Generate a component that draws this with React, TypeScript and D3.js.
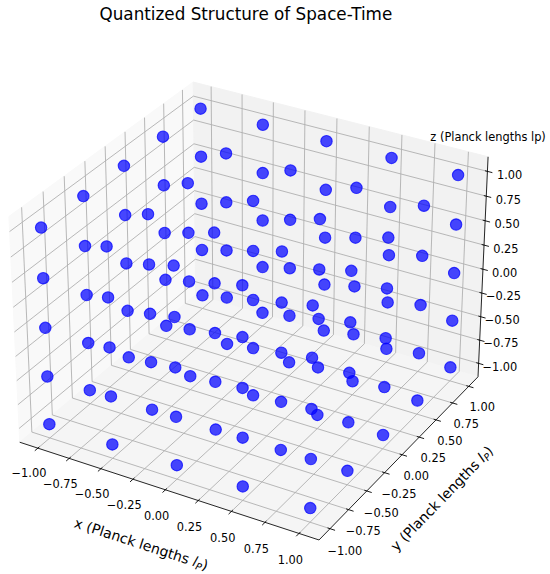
import React, { useEffect, useRef } from "react";
import * as d3 from "d3";

// lattice coordinates of the points (same on every axis)
const GRID_X = [-1, -0.5, 0, 0.5, 1];
const GRID_Y = [-1, -0.5, 0, 0.5, 1];
const GRID_Z = [-1, -0.5, 0, 0.5, 1];

const TICKS = [-1, -0.75, -0.5, -0.25, 0, 0.25, 0.5, 0.75, 1];
const TICK_LABELS = ["−1.00", "−0.75", "−0.50", "−0.25", "0.00", "0.25", "0.50", "0.75", "1.00"];

const TITLE = "Quantized Structure of Space-Time";
const X_LABEL = "x (Planck lengths ";
const Y_LABEL = "y (Planck lengths ";
const Z_LABEL = "z (Planck lengths lp)";

const W_PX = 550;
const H_PX = 574;
const FONT = "DejaVu Sans, Verdana, sans-serif";

// view like matplotlib's default mplot3d camera
const ELEV = 30;
const AZIM = -60;
const DIST = 10;
const LIM = 1.1;
const EDGE = LIM + (2 * LIM) / 48;
const DELTA = (2 * LIM) / 12;
const ASPECT = [8 / 7, 8 / 7, 6 / 7];

type P3 = [number, number, number];

export default function App() {
  const svgRef = useRef<SVGSVGElement>(null);

  useEffect(() => {
    if (!svgRef.current) return;
    const svg = d3.select(svgRef.current);
    svg.selectAll("*").remove();

    const el = (ELEV * Math.PI) / 180;
    const az = (AZIM * Math.PI) / 180;
    const wv = [Math.cos(el) * Math.cos(az), Math.cos(el) * Math.sin(az), Math.sin(el)];
    const uv = [-Math.sin(az), Math.cos(az), 0];
    const vv = [-Math.sin(el) * Math.cos(az), -Math.sin(el) * Math.sin(az), Math.cos(el)];
    const dot = (a: number[], b: number[]) => a[0] * b[0] + a[1] * b[1] + a[2] * b[2];

    // 2d view limits of the axes square
    const sx = d3.scaleLinear().domain([-0.095, 0.09]).range([-20.5, 512.3]);
    const sy = d3.scaleLinear().domain([-0.095, 0.09]).range([573.6, 40.8]);

    const project = ([x, y, z]: P3) => {
      const d = [
        (x / (2 * LIM)) * ASPECT[0],
        (y / (2 * LIM)) * ASPECT[1],
        (z / (2 * LIM)) * ASPECT[2],
      ];
      const den = DIST - dot(wv, d);
      return { x: sx(dot(uv, d) / den), y: sy(dot(vv, d) / den), depth: den };
    };

    const line = d3
      .line<P3>()
      .x((p) => project(p).x)
      .y((p) => project(p).y);

    const E = EDGE;

    // panes
    const panes: { pts: P3[]; color: string }[] = [
      { pts: [[-E, -E, -E], [-E, E, -E], [-E, E, E], [-E, -E, E]], color: "#f9f9f9" },
      { pts: [[-E, E, -E], [E, E, -E], [E, E, E], [-E, E, E]], color: "#f2f2f2" },
      { pts: [[-E, -E, -E], [E, -E, -E], [E, E, -E], [-E, E, -E]], color: "#f5f5f5" },
    ];
    svg
      .append("g")
      .selectAll("path")
      .data(panes)
      .join("path")
      .attr("d", (p) => line(p.pts) + "Z")
      .attr("fill", (p) => p.color)
      .attr("stroke", (p) => p.color)
      .attr("stroke-width", 1);

    // grid
    const gridLines: P3[][] = [];
    TICKS.forEach((t) => {
      gridLines.push([[t, -E, -E], [t, E, -E], [t, E, E]]);
      gridLines.push([[-E, t, E], [-E, t, -E], [E, t, -E]]);
      gridLines.push([[E, E, t], [-E, E, t], [-E, -E, t]]);
    });
    svg
      .append("g")
      .selectAll("path")
      .data(gridLines)
      .join("path")
      .attr("d", (d) => line(d))
      .attr("fill", "none")
      .attr("stroke", "#b0b0b0")
      .attr("stroke-width", 0.9);

    // axis lines
    const axisLines: P3[][] = [
      [[-E, -E, -E], [E, -E, -E]],
      [[E, E, -E], [E, -E, -E]],
      [[E, E, -E], [E, E, E]],
    ];
    svg
      .append("g")
      .selectAll("path")
      .data(axisLines)
      .join("path")
      .attr("d", (d) => line(d))
      .attr("fill", "none")
      .attr("stroke", "#000")
      .attr("stroke-width", 0.85);

    // tick marks
    const tickMarks: P3[][] = [];
    TICKS.forEach((t) => {
      tickMarks.push([[t, -E - 0.2 * DELTA, -E], [t, -E + 0.1 * DELTA, -E]]);
      tickMarks.push([[E - 0.1 * DELTA, t, -E], [E + 0.2 * DELTA, t, -E]]);
      tickMarks.push([[E - 0.1 * DELTA, E, t], [E + 0.2 * DELTA, E, t]]);
    });
    svg
      .append("g")
      .selectAll("path")
      .data(tickMarks)
      .join("path")
      .attr("d", (d) => line(d))
      .attr("fill", "none")
      .attr("stroke", "#000")
      .attr("stroke-width", 0.9);

    // tick labels
    const tickFs = 11.4;
    const LD = 0.1319;
    const tickTexts: { p: P3; text: string; off: [number, number] }[] = [];
    TICKS.forEach((t, i) => {
      tickTexts.push({ p: [t, -E - LD, -E - LD], text: TICK_LABELS[i], off: [1.6, 3.3] });
      tickTexts.push({ p: [E + LD, t, -E - LD], text: TICK_LABELS[i], off: [-3, 3.2] });
      tickTexts.push({ p: [E + LD, E + LD, t], text: TICK_LABELS[i], off: [-4.2, 6.8] });
    });
    svg
      .append("g")
      .attr("font-family", FONT)
      .attr("font-size", tickFs)
      .attr("fill", "#000")
      .attr("text-anchor", "middle")
      .selectAll("text")
      .data(tickTexts)
      .join("text")
      .attr("x", (d) => project(d.p).x + d.off[0])
      .attr("y", (d) => project(d.p).y + d.off[1] + 0.36 * tickFs)
      .text((d) => d.text);

    // axis labels along x and y
    const labelFs = 14;
    const LLD = 0.2866;
    const axisLabel = (text: string, at: P3, from: P3, to: P3, off: [number, number]) => {
      const c = project(at);
      const a = project(from);
      const b = project(to);
      let angle = (Math.atan2(b.y - a.y, b.x - a.x) * 180) / Math.PI;
      if (angle > 90) angle -= 180;
      if (angle <= -90) angle += 180;
      const g = svg
        .append("g")
        .attr("transform", `translate(${c.x + off[0]},${c.y + off[1]}) rotate(${angle})`);
      const tx = g
        .append("text")
        .attr("font-family", FONT)
        .attr("font-size", labelFs)
        .attr("fill", "#000")
        .attr("text-anchor", "middle")
        .attr("y", 0.36 * labelFs);
      tx.append("tspan").text(text);
      tx.append("tspan").attr("font-style", "italic").text("l");
      tx.append("tspan").attr("font-style", "italic").attr("font-size", labelFs * 0.7).attr("dy", 2.2).text("P");
      tx.append("tspan").attr("dy", -2.2).text(")");
    };
    axisLabel(X_LABEL, [0, -E - LLD, -E - LLD], [-E, -E, -E], [E, -E, -E], [-1.6, 5.2]);
    axisLabel(Y_LABEL, [E + LLD, 0, -E - LLD], [E, E, -E], [E, -E, -E], [2.2, 4.7]);

    // z label sits horizontally above the z axis
    const zTop = project([E, E, E]);
    svg
      .append("text")
      .attr("x", zTop.x)
      .attr("y", zTop.y - 19.5 + 0.36 * tickFs)
      .attr("font-family", FONT)
      .attr("font-size", tickFs)
      .attr("text-anchor", "middle")
      .attr("fill", "#000")
      .text(Z_LABEL);

    // lattice points, far ones first
    const points = d3
      .cross(d3.cross(GRID_X, GRID_Y), GRID_Z)
      .map(([[x, y], z]) => project([x, y, z]))
      .sort((a, b) => b.depth - a.depth);
    svg
      .append("g")
      .selectAll("circle")
      .data(points)
      .join("circle")
      .attr("cx", (d) => d.x)
      .attr("cy", (d) => d.y)
      .attr("r", 5.7)
      .attr("fill", "#0000ff")
      .attr("fill-opacity", 0.72)
      .attr("stroke", "#0000ff")
      .attr("stroke-opacity", 0.72)
      .attr("stroke-width", 1.1);

    // title
    svg
      .append("text")
      .attr("x", (sx(-0.095) + sx(0.09)) / 2)
      .attr("y", 20.4)
      .attr("font-family", FONT)
      .attr("font-size", 16.8)
      .attr("text-anchor", "middle")
      .attr("fill", "#000")
      .text(TITLE);
  }, []);

  return (
    <svg
      ref={svgRef}
      width={W_PX}
      height={H_PX}
      style={{ position: "absolute", left: 0, top: 0, background: "#fff" }}
    />
  );
}
